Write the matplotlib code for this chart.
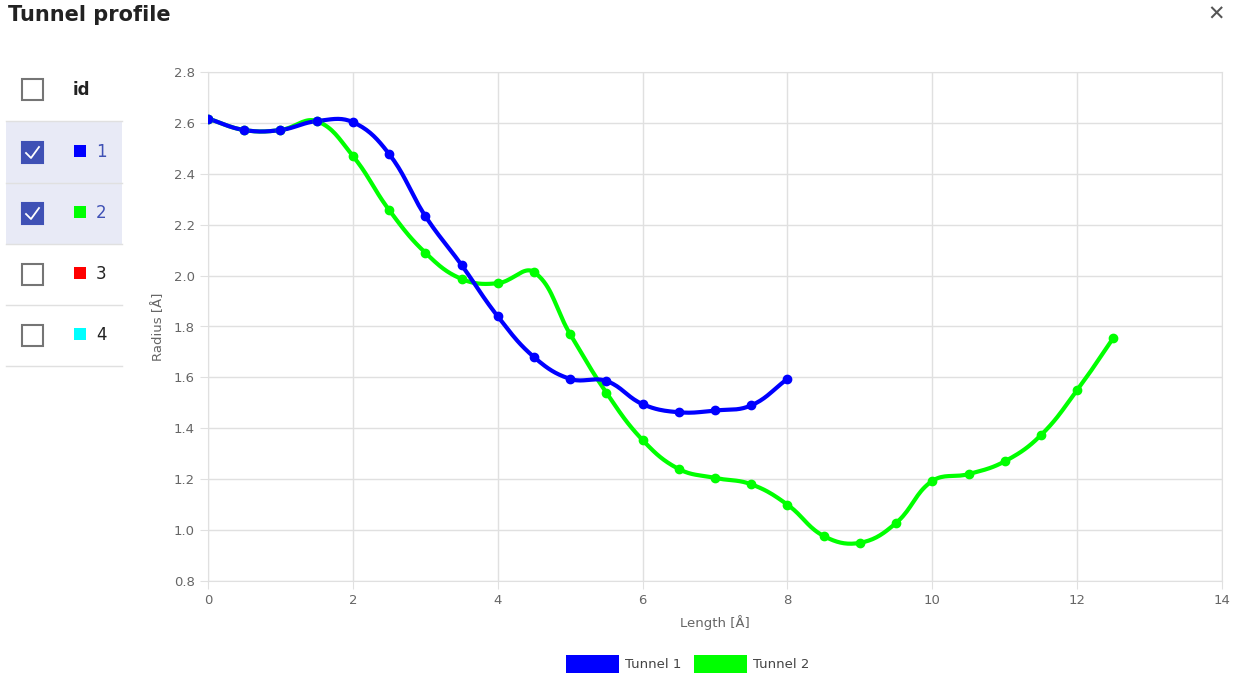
import numpy as np
import matplotlib.pyplot as plt
from matplotlib.patches import Rectangle

length1 = [0, 0.5, 1, 1.5, 2, 2.5, 3, 3.5, 4, 4.5, 5, 5.5, 6, 6.5, 7, 7.5, 8]
radius1 = [2.617, 2.572, 2.572, 2.607, 2.603, 2.478, 2.234, 2.042, 1.84, 1.68, 1.594,
           1.586, 1.495, 1.463, 1.47, 1.49, 1.594]
length2 = [0, 0.5, 1, 1.5, 2, 2.5, 3, 3.5, 4, 4.5, 5, 5.5, 6, 6.5, 7, 7.5, 8, 8.5, 9,
           9.5, 10, 10.5, 11, 11.5, 12, 12.5]
radius2 = [2.617, 2.572, 2.572, 2.607, 2.47, 2.258, 2.09, 1.987, 1.97, 2.014, 1.77,
           1.54, 1.354, 1.24, 1.205, 1.18, 1.10, 0.977, 0.95, 1.028, 1.193, 1.22,
           1.27, 1.373, 1.55, 1.755]
series = [("Tunnel 1", length1, radius1, "#0000ff"), ("Tunnel 2", length2, radius2, "#00ff00")]
ids = ["1", "2", "3", "4"]
id_colors = ["#0000ff", "#00ff00", "#ff0000", "#00ffff"]
id_checked = [True, True, False, False]

SX, SY = 72.4, 254.5  # px per unit, used for spline shape


def smooth(xs, ys, t=0.4, n=20):
    p = np.column_stack([np.array(xs) * SX, np.array(ys) * SY])
    out = []
    m = len(p)
    cps = []
    for i in range(m):
        p0 = p[max(i - 1, 0)]
        p1 = p[i]
        p2 = p[min(i + 1, m - 1)]
        d01 = np.hypot(*(p1 - p0))
        d12 = np.hypot(*(p2 - p1))
        tot = d01 + d12 if d01 + d12 > 0 else 1
        fa = t * d01 / tot
        fb = t * d12 / tot
        cps.append((p1 - fa * (p2 - p0), p1 + fb * (p2 - p0)))
    for i in range(m - 1):
        a, b = p[i], p[i + 1]
        c1, c2 = cps[i][1], cps[i + 1][0]
        s = np.linspace(0, 1, n)[:, None]
        seg = (1 - s) ** 3 * a + 3 * (1 - s) ** 2 * s * c1 + 3 * (1 - s) * s ** 2 * c2 + s ** 3 * b
        out.append(seg)
    out = np.vstack(out)
    return out[:, 0] / SX, out[:, 1] / SY


fig = plt.figure(figsize=(12.36, 6.77), dpi=100)
W, H = 1236, 677
ax = fig.add_axes([208 / W, 1 - 581 / H, (1222 - 208) / W, (581 - 72) / H])

for name, xs, ys, col in reversed(series):
    sx, sy = smooth(xs, ys)
    ax.plot(sx, sy, color=col, lw=3, solid_capstyle="round", zorder=3)
    ax.plot(xs, ys, "o", color=col, ms=6, zorder=4)

ax.set_xlim(0, 14)
ax.set_ylim(0.8, 2.8)
ax.set_xticks(range(0, 15, 2))
ax.set_yticks(np.arange(0.8, 2.81, 0.2))
ax.set_yticklabels([f"{v:.1f}" for v in np.arange(0.8, 2.81, 0.2)])
ax.grid(color="#e0e0e0", lw=1)
for s in ax.spines.values():
    s.set_color("#e0e0e0")
ax.tick_params(colors="#666666", labelsize=9.5, length=6, color="#e0e0e0")
ax.set_xlabel("Length [Å]", color="#666666", fontsize=9.5, labelpad=6)
ax.set_ylabel("Radius [Å]", color="#666666", fontsize=9.5, labelpad=6)

# title and close
fig.text(8 / W, 1 - 15 / H, "Tunnel profile", fontsize=15, fontweight="bold", color="#222222", va="center")
fig.text(1216 / W, 1 - 15 / H, "✕", fontsize=15, color="#555555", va="center", ha="center")


def box(x, y, w, h, **kw):
    fig.patches.append(Rectangle((x / W, 1 - (y + h) / H), w / W, h / H, transform=fig.transFigure, **kw))


# table
row_y = [152, 213, 274, 335]
box(22, 79, 21, 21, fc="white", ec="#757575", lw=1.5)
fig.text(73 / W, 1 - 90 / H, "id", fontsize=12, fontweight="bold", color="#222222", va="center")
fig.lines.append(plt.Line2D([6 / W, 122 / W], [1 - 121 / H] * 2, transform=fig.transFigure, color="#e0e0e0", lw=1))
for i, yc in enumerate(row_y):
    if id_checked[i]:
        box(6, yc - 30, 116, 61, fc="#e8eaf6", ec="none")
        box(22, yc - 10, 21, 21, fc="#3f51b5", ec="#3f51b5", lw=1.5)
        fig.lines.append(plt.Line2D([26 / W, 31 / W, 39 / W], [1 - (yc + 1) / H, 1 - (yc + 6) / H, 1 - (yc - 5) / H],
                                    transform=fig.transFigure, color="white", lw=1.3))
    else:
        box(22, yc - 10, 21, 21, fc="white", ec="#757575", lw=1.5)
    fig.lines.append(plt.Line2D([6 / W, 122 / W], [1 - (yc + 31) / H] * 2, transform=fig.transFigure, color="#e0e0e0", lw=1))
    box(74, yc - 7, 12, 12, fc=id_colors[i], ec="none")
    fig.text(96 / W, 1 - yc / H, ids[i], fontsize=12, color="#3f51b5" if id_checked[i] else "#222222", va="center")

# legend
lx = [566, 694]
for (name, xs, ys, col), x0 in zip(series, lx):
    box(x0, 655, 53, 18, fc=col, ec="none")
    fig.text((x0 + 59) / W, 1 - 664 / H, name, fontsize=9.5, color="#444444", va="center")

fig.savefig("out.png", dpi=100)
